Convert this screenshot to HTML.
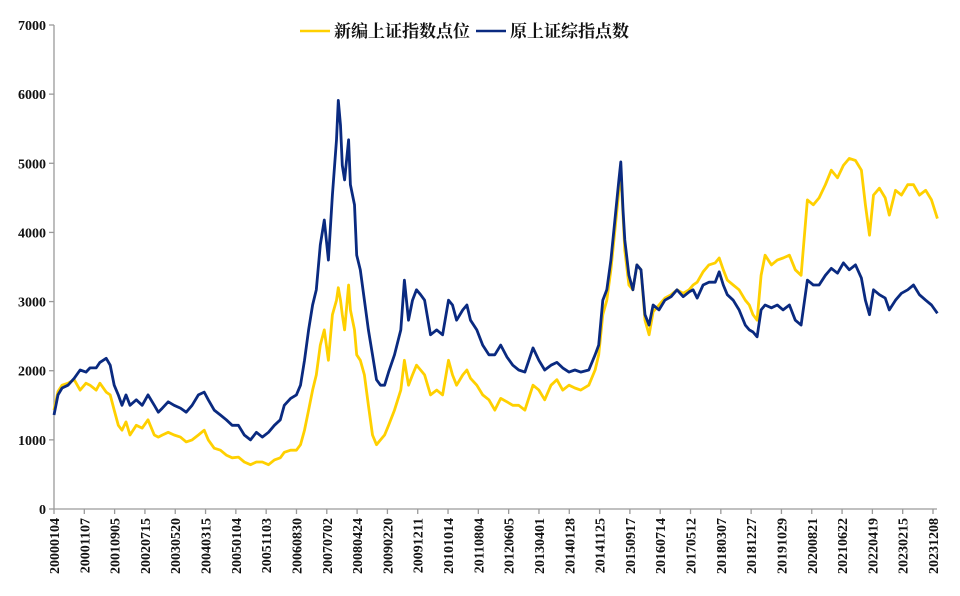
<!DOCTYPE html>
<html><head><meta charset="utf-8"><style>
html,body{margin:0;padding:0;background:#fff;}
svg{display:block;}
</style></head><body>
<svg id="chart" width="960" height="596" xmlns="http://www.w3.org/2000/svg">
<g id="legend" font-family="'Liberation Serif','Noto Serif CJK SC',serif" font-weight="bold" font-size="17" fill="#111">
 <g>
  <line x1="300" y1="31" x2="330" y2="31" stroke="#FFD000" stroke-width="2.5"/>
  <text x="334" y="37">新编上证指数点位</text>
 </g>
 <g>
  <line x1="476" y1="31" x2="506" y2="31" stroke="#0A2A80" stroke-width="2.5"/>
  <text x="510" y="37">原上证综指点数</text>
 </g>
</g>
<g id="axes"></g>
<g id="series"></g>
</svg>
<script>
const tickLabels=["20000104","20001107","20010905","20020715","20030520","20040315","20050104","20051103","20060830","20070702","20080424","20090220","20091211","20101014","20110804","20120605","20130401","20140128","20141125","20150917","20160714","20170512","20180307","20181227","20191029","20200821","20210622","20220419","20230215","20231208"];
const yTicks=[0,1000,2000,3000,4000,5000,6000,7000];
const years=[0,.11,.22,.38,.55,.71,.87,.98,1.15,1.25,1.42,1.53,1.64,1.75,1.85,1.96,2.07,2.24,2.40,2.56,2.73,2.84,2.95,3.11,3.27,3.44,3.60,3.76,3.93,4.09,4.20,4.36,4.53,4.69,4.85,5.02,5.18,5.35,5.51,5.67,5.84,6.00,6.16,6.27,6.44,6.60,6.71,6.82,6.93,7.04,7.14,7.25,7.36,7.47,7.58,7.69,7.74,7.80,7.85,7.91,8.02,8.07,8.18,8.24,8.34,8.45,8.56,8.67,8.78,8.89,9.00,9.11,9.27,9.44,9.54,9.65,9.76,9.87,9.98,10.09,10.25,10.42,10.58,10.74,10.85,10.96,11.13,11.24,11.34,11.51,11.67,11.84,12.00,12.16,12.33,12.49,12.65,12.82,13.04,13.20,13.36,13.53,13.69,13.85,14.02,14.18,14.34,14.56,14.73,14.83,14.94,15.05,15.16,15.27,15.38,15.43,15.49,15.54,15.65,15.76,15.87,15.98,16.09,16.20,16.31,16.47,16.63,16.80,16.96,17.13,17.29,17.40,17.51,17.67,17.83,18.00,18.11,18.22,18.33,18.49,18.65,18.82,18.93,19.03,19.14,19.25,19.36,19.53,19.69,19.85,20.02,20.18,20.34,20.51,20.67,20.83,21.00,21.16,21.33,21.49,21.65,21.82,21.98,22.09,22.20,22.31,22.47,22.63,22.74,22.91,23.07,23.24,23.40,23.56,23.73,23.89,24.05];
const oldIndex=[1360,1650,1750,1790,1890,2010,1980,2040,2040,2120,2180,2080,1790,1650,1500,1650,1500,1580,1500,1650,1500,1400,1460,1550,1500,1460,1400,1500,1650,1690,1580,1430,1360,1290,1210,1210,1070,1000,1110,1040,1110,1210,1290,1500,1600,1650,1790,2150,2590,2950,3170,3820,4180,3600,4540,5340,5910,5550,4970,4760,5340,4690,4400,3670,3460,3020,2590,2230,1870,1790,1790,1980,2230,2590,3310,2730,3020,3170,3100,3020,2520,2590,2520,3020,2950,2730,2880,2950,2730,2590,2370,2230,2230,2370,2200,2080,2010,1980,2330,2150,2010,2080,2120,2040,1980,2010,1980,2010,2230,2370,3020,3170,3600,4180,4760,5020,4330,3890,3380,3170,3530,3460,2810,2660,2950,2880,3020,3070,3170,3070,3140,3170,3050,3240,3280,3280,3430,3240,3100,3020,2880,2660,2590,2560,2490,2880,2950,2910,2950,2880,2950,2730,2660,3310,3240,3240,3380,3480,3410,3560,3460,3530,3340,3020,2810,3170,3100,3050,2880,3020,3120,3170,3240,3100,3020,2950,2830];
const newIndex=[1430,1700,1790,1820,1870,1720,1820,1790,1720,1820,1690,1650,1430,1210,1140,1260,1070,1210,1170,1290,1070,1040,1070,1110,1070,1040,970,1000,1070,1140,1000,880,850,780,740,750,680,640,680,680,640,710,740,820,850,850,930,1140,1430,1720,1940,2370,2590,2150,2810,3020,3200,3020,2810,2590,3240,2880,2590,2230,2150,1940,1500,1070,930,1000,1070,1210,1430,1720,2150,1790,1940,2080,2010,1940,1650,1720,1650,2150,1940,1790,1940,2010,1890,1790,1650,1580,1430,1600,1550,1500,1500,1430,1790,1720,1580,1790,1870,1720,1790,1750,1720,1790,2010,2230,2810,3020,3460,4030,4610,4900,4250,3740,3240,3170,3530,3460,2730,2520,2850,2950,3050,3100,3170,3120,3170,3240,3280,3430,3530,3560,3630,3460,3310,3240,3170,3020,2950,2810,2730,3380,3670,3530,3600,3630,3670,3460,3380,4470,4400,4500,4690,4900,4790,4970,5070,5040,4900,4400,3960,4540,4640,4500,4250,4610,4540,4690,4690,4540,4610,4470,4200];

const NS="http://www.w3.org/2000/svg";
const X0=54,X1=933,Y0=509,Y1=25,T_END=23.93,V_MAX=7000;
function xScale(t){return X0+t/T_END*(X1-X0);}
function yScale(v){return Y0-v/V_MAX*(Y0-Y1);}
function tickX(i){return X0+i*(X1-X0)/(tickLabels.length-1);}
function mk(tag,attrs,parent){const e=document.createElementNS(NS,tag);for(const k in attrs)e.setAttribute(k,attrs[k]);parent.appendChild(e);return e;}
const axes=document.getElementById('axes');
const yAxis=mk('line',{x1:X0,y1:Y1,x2:X0,y2:Y0,stroke:'#9a9a9a','stroke-width':1.3},axes);


const xAxis=mk('line',{x1:X0,y1:Y0,x2:937,y2:Y0,stroke:'#9a9a9a','stroke-width':1.3},axes);


yTicks.forEach(v=>{
 const y=yScale(v);
 const tk=mk('line',{x1:X0-5,y1:y,x2:X0,y2:y,stroke:'#9a9a9a','stroke-width':1.3},axes);
 
 
 const t=mk('text',{x:X0-8,y:y+5,'text-anchor':'end','font-family':"'Liberation Serif',serif",'font-weight':'bold','font-size':14,fill:'#111'},axes);
 t.textContent=v;
 
 
});
tickLabels.forEach((lab,i)=>{
 const x=tickX(i);
 const tk=mk('line',{x1:x,y1:Y0,x2:x,y2:Y0+5,stroke:'#9a9a9a','stroke-width':1.3},axes);
 
 
 const t=mk('text',{x:0,y:0,'text-anchor':'end','font-family':"'Liberation Serif',serif",'font-weight':'bold','font-size':14,fill:'#111',transform:`translate(${x+5},${Y0+9}) rotate(-90)`},axes);
 t.textContent=lab;
 
 
});
const series=document.getElementById('series');
function drawLine(vals,color,name){
 const d=vals.map((v,i)=>(i?'L':'M')+xScale(years[i]).toFixed(1)+','+yScale(v).toFixed(1)).join(' ');
 const p=mk('path',{d:d,fill:'none',stroke:color,'stroke-width':2.8,'stroke-linejoin':'round'},series);
 
 
}
drawLine(newIndex,'#FFD000','new-index-line');
drawLine(oldIndex,'#0A2A80','old-index-line');
</script>
</body></html>
